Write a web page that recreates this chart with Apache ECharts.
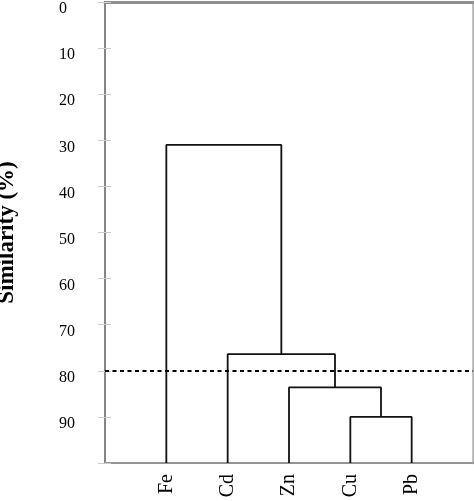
<!DOCTYPE html>
<html>
<head>
<meta charset="utf-8">
<script src="https://cdn.jsdelivr.net/npm/echarts@6/dist/echarts.min.js"></script>
<style>html,body{margin:0;padding:0;background:#fff;}#c{width:474px;height:501px;}</style>
</head>
<body>
<div id="c"></div>
<script>
// Leaves of the dendrogram, left to right
var leaves = ['Fe', 'Cd', 'Zn', 'Cu', 'Pb'];
// Merges: pairs of cluster ids (0-4 leaves, 5+ merged clusters)
var mergePairs = [[3, 4], [2, 5], [1, 6], [0, 7]];
// Similarity (%) at which each merge happens
var mergeSimilarity = [90.0, 83.6, 76.4, 31.0];
// Similarity cut-off line
var cutOff = 80;
// Y tick values
var yTicks = [0, 10, 20, 30, 40, 50, 60, 70, 80, 90];
var leafLevel = 100;

var font = '"Liberation Serif", "Times New Roman", serif';

// Build cluster positions from the tree
var clusterX = leaves.map(function (_, i) { return i + 1; });
var clusterY = leaves.map(function () { return leafLevel; });
var linkSeries = [];
mergePairs.forEach(function (p, k) {
  var a = p[0], b = p[1], h = mergeSimilarity[k];
  var xa = clusterX[a], xb = clusterX[b];
  linkSeries.push({
    type: 'line', xAxisIndex: 0, yAxisIndex: 0, symbol: 'none', silent: true,
    lineStyle: { color: '#111', width: 1.8 },
    data: [[xa, clusterY[a]], [xa, h], [xb, h], [xb, clusterY[b]]]
  });
  clusterX.push((xa + xb) / 2);
  clusterY.push(h);
});
linkSeries[0].markLine = {
  symbol: 'none', silent: true, label: { show: false },
  lineStyle: { color: '#000', width: 2, type: [4, 3.5] },
  data: [{ yAxis: cutOff }]
};

var chart = echarts.init(document.getElementById('c'), null, { renderer: 'canvas' });
chart.setOption({
  animation: false,
  backgroundColor: '#fff',
  grid: { left: 105, right: 1, top: 2, bottom: 38, containLabel: false, outerBoundsMode: 'none' },
  xAxis: [{
    type: 'value', min: 0, max: leaves.length + 1, interval: 1, position: 'bottom',
    splitLine: { show: false }, axisTick: { show: false },
    axisLine: { show: true, onZero: false, lineStyle: { color: '#959595', width: 2 } },
    axisLabel: {
      rotate: 90, margin: 11, fontSize: 20, fontFamily: font, color: '#000',
      formatter: function (v) { return (v >= 1 && v <= leaves.length) ? leaves[v - 1] : ''; }
    }
  }, {
    type: 'value', min: 0, max: leaves.length + 1, position: 'top',
    splitLine: { show: false }, axisTick: { show: false }, axisLabel: { show: false },
    axisLine: { show: true, onZero: false, lineStyle: { color: '#909090', width: 3 } }
  }],
  yAxis: [{
    type: 'value', inverse: true, min: 0, max: 100, interval: 10, position: 'left',
    name: 'Similarity (%)', nameLocation: 'middle', nameRotate: 90, nameGap: 86,
    nameTextStyle: { fontFamily: font, fontSize: 23, fontWeight: 'bold', color: '#000' },
    splitLine: { show: false },
    axisLine: { show: true, onZero: false, lineStyle: { color: '#858585', width: 2 } },
    axisTick: { show: true, length: 7, lineStyle: { color: '#ccc', width: 1 } },
    axisLabel: {
      align: 'left', verticalAlign: 'top', lineHeight: 14, margin: 46,
      fontSize: 16, fontFamily: font, color: '#000',
      formatter: function (v) { return yTicks.indexOf(v) >= 0 ? String(v) : ''; }
    }
  }, {
    type: 'value', inverse: true, min: 0, max: 100, interval: 10, position: 'right',
    splitLine: { show: false }, axisTick: { show: false }, axisLabel: { show: false },
    axisLine: { show: true, onZero: false, lineStyle: { color: '#b0b0b0', width: 2.5 } }
  }, {
    type: 'value', inverse: true, min: 0, max: 100, interval: 10, position: 'left',
    splitLine: { show: false }, axisLabel: { show: false },
    axisLine: { show: false, onZero: false },
    axisTick: { show: true, inside: true, length: 6, lineStyle: { color: '#ccc', width: 1 } }
  }],
  series: linkSeries
});
</script>
</body>
</html>
